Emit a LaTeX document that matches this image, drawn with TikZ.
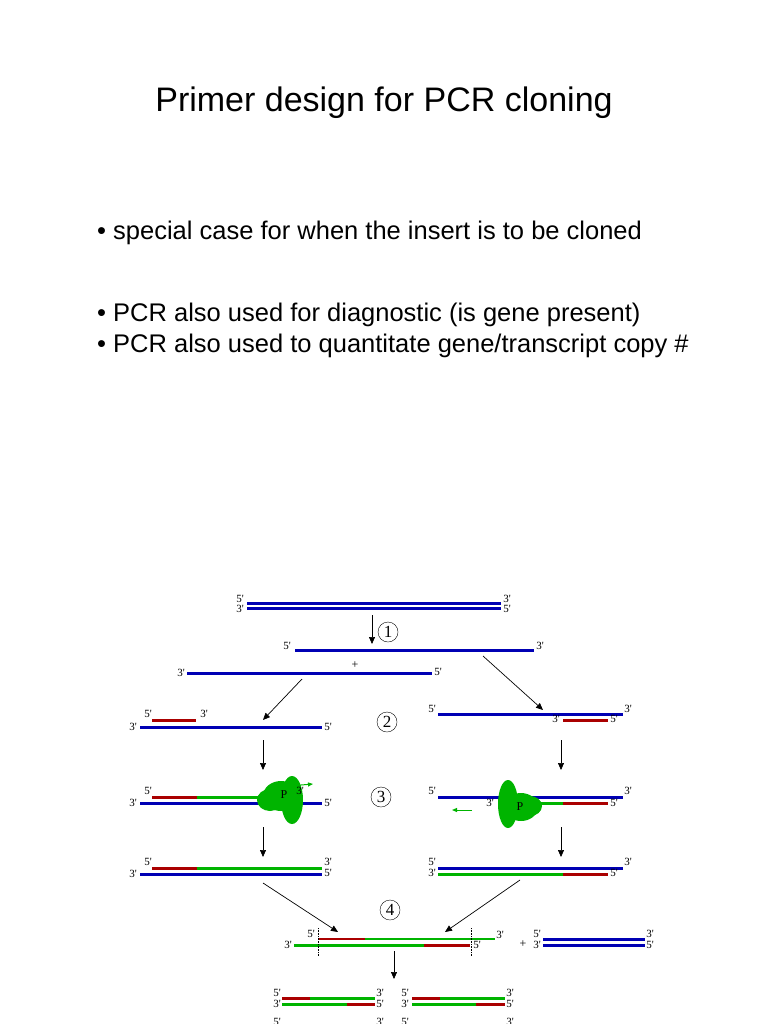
\documentclass[tikz,border=0pt]{standalone}
\usepackage{fontspec}
\setmainfont{Liberation Sans}
\newfontfamily\lab{Liberation Serif}
\usetikzlibrary{arrows.meta}
\definecolor{dblue}{RGB}{0,0,180}
\definecolor{dred}{RGB}{170,0,0}
\definecolor{dgreen}{RGB}{0,180,0}
\begin{document}
\begin{tikzpicture}[x=1pt,y=-1pt,
  bl/.style={draw=dblue,line width=3pt},
  rd/.style={draw=dred,line width=3pt},
  gr/.style={draw=dgreen,line width=3pt},
  L/.style={font=\lab\fontsize{11}{11}\selectfont,inner sep=0pt},
  ar/.style={-{Triangle[length=7pt,width=6pt]},line width=0.7pt},
  num/.style={draw,circle,inner sep=1pt,minimum size=20pt,font=\lab\fontsize{17}{17}\selectfont},
  blob/.style={fill=dgreen}]
\useasboundingbox (0,0) rectangle (768,1024);
\node[font=\fontsize{34}{34}\selectfont] (title) at (384,103) {Primer design for PCR cloning};
\node[anchor=west,font=\fontsize{25.5}{30}\selectfont,inner sep=0pt] (b1) at (97,233) {• special case for when the insert is to be cloned};
\node[anchor=west,font=\fontsize{25.5}{30}\selectfont,inner sep=0pt] (b2) at (97,315) {• PCR also used for diagnostic (is gene present)};
\node[anchor=west,font=\fontsize{25.5}{30}\selectfont,inner sep=0pt] (b3) at (97,346) {• PCR also used to quantitate gene/transcript copy \#};
% top ds
\draw[bl] (247,603)--(501,603); \draw[bl] (247,608)--(501,608);
\node[L] (t1) at (240,599) {5'}; \node[L] (t2) at (240,609) {3'};
\node[L] (t3) at (507,599) {3'}; \node[L] (t4) at (507,609) {5'};
\coordinate (a1s) at (372,615); \coordinate (a1e) at (372,644);
\draw[ar] (a1s)--(a1e);
\node[num] (n1) at (388,632) {1};
\draw[bl] (295,650)--(534,650);
\node[L] (s1) at (287,646) {5'}; \node[L] (s2) at (540,646) {3'};
\node[font=\lab\fontsize{12}{12}\selectfont] (plus1) at (355,665) {+};
\draw[bl] (187,673)--(432,673);
\node[L] (s3) at (181,673) {3'}; \node[L] (s4) at (438,672) {5'};
\coordinate (a2s) at (302,679); \coordinate (a2e) at (263,720);
\draw[ar] (a2s)--(a2e);
\coordinate (a3s) at (483,656); \coordinate (a3e) at (543,710);
\draw[ar] (a3s)--(a3e);
% step 2
\draw[rd] (152,720)--(196,720); \draw[bl] (140,727)--(322,727);
\node[L] at (148,714) {5'}; \node[L] at (204,714) {3'};
\node[L] at (133,727) {3'}; \node[L] at (328,727) {5'};
\node[num] (n2) at (387,722) {2};
\draw[bl] (438,714)--(623,714); \draw[rd] (563,720)--(608,720);
\node[L] at (432,709) {5'}; \node[L] at (628,709) {3'};
\node[L] at (556,719) {3'}; \node[L] at (614,719) {5'};
\draw[ar] (263,740)--(263,770);
\draw[ar] (561,740)--(561,770);
% step 3
\draw[rd] (152,797)--(197,797); \draw[gr] (197,797)--(260,797);
\draw[bl] (140,803)--(322,803);
\fill[dgreen] (281,796) ellipse (18 and 15);
\fill[dgreen] (292,800) ellipse (11 and 24);
\fill[dgreen] (270,800) ellipse (13 and 11);
\node[font=\lab\fontsize{12}{12}\selectfont] (P1) at (284,795) {P};
\node[L] at (148,791) {5'}; \node[L] at (133,803) {3'}; \node[L] at (328,803) {5'};
\node[L] at (300,791) {3'};
\draw[dgreen,line width=1pt,-{Triangle[length=5pt,width=4pt]}] (289,786)--(313,784);
\node[num] (n3) at (381,797) {3};
\draw[bl] (438,797)--(623,797);
\draw[gr] (525,803)--(563,803); \draw[rd] (563,803)--(608,803);
\fill[dgreen] (521,807) ellipse (17 and 14);
\fill[dgreen] (508,804) ellipse (10 and 24);
\fill[dgreen] (530,806) ellipse (12 and 10);
\node[font=\lab\fontsize{12}{12}\selectfont] (P2) at (520,807) {P};
\node[L] at (432,791) {5'}; \node[L] at (628,791) {3'};
\node[L] at (490,803) {3'}; \node[L] at (614,803) {5'};
\draw[dgreen,line width=1pt,-{Triangle[length=5pt,width=4pt]}] (472,810)--(452,810);
\draw[ar] (263,827)--(263,857);
\draw[ar] (561,827)--(561,857);
% step 3 results
\draw[rd] (152,868)--(197,868); \draw[gr] (197,868)--(322,868);
\draw[bl] (140,874)--(322,874);
\node[L] at (148,862) {5'}; \node[L] at (133,874) {3'};
\node[L] at (328,862) {3'}; \node[L] at (328,873) {5'};
\draw[bl] (438,868)--(623,868);
\draw[gr] (438,874)--(563,874); \draw[rd] (563,874)--(608,874);
\node[L] at (432,862) {5'}; \node[L] at (432,873) {3'};
\node[L] at (628,862) {3'}; \node[L] at (614,873) {5'};
\draw[ar] (263,883)--(338,932);
\draw[ar] (520,880)--(445,932);
\node[num] (n4) at (390,910) {4};
% step 4
\draw[rd,line width=2pt] (318,939)--(365,939); \draw[gr,line width=2pt] (365,939)--(495,939);
\draw[gr] (294,945)--(424,945); \draw[rd] (424,945)--(470,945);
\draw[densely dotted,line width=0.6pt] (318,928)--(318,956);
\draw[densely dotted,line width=0.6pt] (471,928)--(471,956);
\node[L] at (311,934) {5'}; \node[L] at (500,935) {3'};
\node[L] at (288,945) {3'}; \node[L] at (477,945) {5'};
\node[font=\lab\fontsize{12}{12}\selectfont] (plus2) at (523,944) {+};
\draw[bl] (543,939)--(645,939); \draw[bl] (543,945)--(645,945);
\node[L] at (537,934) {5'}; \node[L] at (537,945) {3'};
\node[L] at (650,934) {3'}; \node[L] at (650,945) {5'};
\draw[ar] (394,951)--(394,979);
% bottom
\draw[rd] (282,998)--(310,998); \draw[gr] (310,998)--(375,998);
\draw[gr] (282,1004)--(347,1004); \draw[rd] (347,1004)--(375,1004);
\draw[rd] (412,998)--(440,998); \draw[gr] (440,998)--(505,998);
\draw[gr] (412,1004)--(476,1004); \draw[rd] (476,1004)--(505,1004);
\foreach \x/\a/\b in {277/5'/3',380/3'/5',405/5'/3',510/3'/5'}{
  \node[L] at (\x,993) {\a}; \node[L] at (\x,1004) {\b};
  \node[L] at (\x,1022) {\a};}
\end{tikzpicture}
\end{document}
